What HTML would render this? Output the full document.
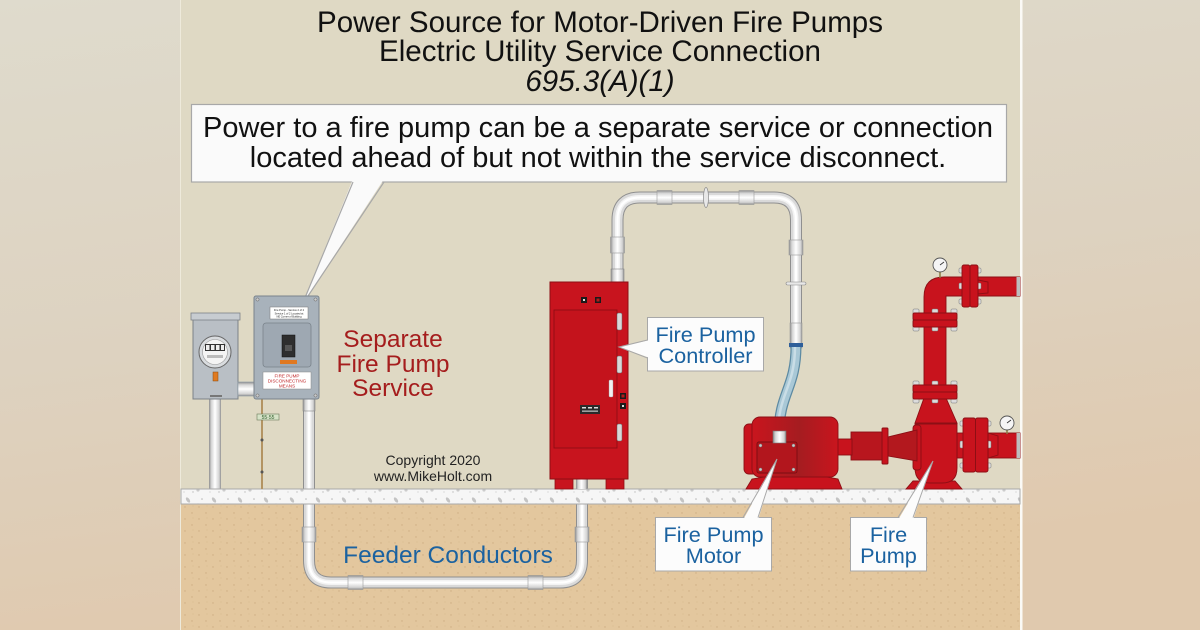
<!DOCTYPE html>
<html><head><meta charset="utf-8">
<style>
html,body{margin:0;padding:0;width:1200px;height:630px;overflow:hidden;background:#dfd6c3}
svg{display:block}
text{font-family:"Liberation Sans",Arial,sans-serif}
</style></head><body>
<svg width="1200" height="630" viewBox="0 0 1200 630" xmlns="http://www.w3.org/2000/svg">
<defs>
<linearGradient id="bg" x1="0" y1="0" x2="0.25" y2="1">
 <stop offset="0" stop-color="#dfdbcd"/>
 <stop offset="0.55" stop-color="#ddd2c0"/>
 <stop offset="1" stop-color="#e0c9ae"/>
</linearGradient>
<pattern id="dirt" width="14" height="12" patternUnits="userSpaceOnUse">
 <rect width="14" height="12" fill="#e3c79e"/>
 <circle cx="3" cy="3" r="0.7" fill="#cdad82"/>
 <circle cx="10" cy="9" r="0.7" fill="#cdad82"/>
 <circle cx="11" cy="2" r="0.5" fill="#d4b58b"/>
</pattern>
<pattern id="conc" width="26" height="15" patternUnits="userSpaceOnUse">
 <rect width="26" height="15" fill="#f6f6f6"/>
 <ellipse cx="6" cy="5" rx="1.6" ry="3" fill="#c4c4c4" transform="rotate(-35 6 5)"/>
 <circle cx="16" cy="10" r="1.6" fill="#cccccc"/>
 <circle cx="20" cy="4" r="0.8" fill="#b8b8b8"/>
 <circle cx="11" cy="12" r="0.7" fill="#bdbdbd"/>
 <circle cx="2" cy="12" r="0.6" fill="#c8c8c8"/>
</pattern>
<linearGradient id="gv" x1="0" y1="0" x2="1" y2="0">
 <stop offset="0" stop-color="#8e8e8e"/><stop offset="0.2" stop-color="#d6d6d6"/>
 <stop offset="0.5" stop-color="#ffffff"/><stop offset="0.85" stop-color="#d2d2d2"/>
 <stop offset="1" stop-color="#8e8e8e"/>
</linearGradient>
<linearGradient id="gh" x1="0" y1="0" x2="0" y2="1">
 <stop offset="0" stop-color="#8e8e8e"/><stop offset="0.2" stop-color="#d6d6d6"/>
 <stop offset="0.5" stop-color="#ffffff"/><stop offset="0.85" stop-color="#d2d2d2"/>
 <stop offset="1" stop-color="#8e8e8e"/>
</linearGradient>
<linearGradient id="motor" x1="0" y1="0" x2="1" y2="0">
 <stop offset="0" stop-color="#c9151e"/><stop offset="0.55" stop-color="#a51c20"/>
 <stop offset="1" stop-color="#c9151e"/>
</linearGradient>
<path id="feeder" d="M309,399 V560 Q309,582.5 331,582.5 H560 Q582,582.5 582,560 V479"/>
<path id="topc" d="M617.5,282 V220 Q617.5,197.5 640,197.5 H774 Q796,197.5 796,220 V348"/>
</defs>

<!-- outer background -->
<rect width="1200" height="630" fill="url(#bg)"/>
<!-- panel -->
<rect x="180" y="0" width="840" height="630" fill="#dfd9c4"/>
<line x1="180.5" y1="0" x2="180.5" y2="630" stroke="#eeeadb" stroke-width="1"/>
<rect x="1020" y="0" width="2.5" height="630" fill="#fbfaf6"/>
<!-- ground -->
<rect x="181" y="504" width="839" height="126" fill="url(#dirt)"/>
<rect x="181" y="489" width="839" height="15" fill="url(#conc)" stroke="#a9a9a9" stroke-width="1"/>

<!-- Title -->
<text x="600" y="32" font-size="29.5" text-anchor="middle" fill="#111" textLength="566" lengthAdjust="spacingAndGlyphs">Power Source for Motor-Driven Fire Pumps</text>
<text x="600" y="61" font-size="29.5" text-anchor="middle" fill="#111" textLength="442" lengthAdjust="spacingAndGlyphs">Electric Utility Service Connection</text>
<text x="600" y="91" font-size="29.5" font-style="italic" text-anchor="middle" fill="#111">695.3(A)(1)</text>

<!-- Main callout -->
<rect x="191.5" y="104.5" width="815" height="77.5" fill="#fafafa" stroke="#a8a8a8" stroke-width="1.2"/>
<polygon points="353,179 384,179 302,305" fill="#fafafa"/>
<path d="M353,182 L302,305 L384,182" fill="none" stroke="#a8a8a8" stroke-width="1.2"/>
<text x="598" y="137" font-size="29" text-anchor="middle" fill="#111" textLength="790" lengthAdjust="spacingAndGlyphs">Power to a fire pump can be a separate service or connection</text>
<text x="598" y="167" font-size="29" text-anchor="middle" fill="#111">located ahead of but not within the service disconnect.</text>

<!-- meter pipe -->
<rect x="209" y="399" width="12" height="90" fill="url(#gv)"/>
<!-- feeder conduit -->
<g fill="none">
 <use href="#feeder" stroke="#8f8f8f" stroke-width="12"/>
 <use href="#feeder" stroke="#d9d9d9" stroke-width="10"/>
 <use href="#feeder" stroke="#f3f3f3" stroke-width="5"/>
 <use href="#feeder" stroke="#ffffff" stroke-width="2"/>
</g>
<!-- redraw slab over conduit region -->
<rect x="181" y="489" width="839" height="15" fill="url(#conc)" stroke="#a9a9a9" stroke-width="1"/>
<rect x="209" y="489.5" width="12" height="0" />
<!-- feeder couplings -->
<rect x="302" y="527" width="14" height="15" fill="url(#gv)" stroke="#999" stroke-width="0.6"/>
<rect x="575" y="527" width="14" height="15" fill="url(#gv)" stroke="#999" stroke-width="0.6"/>
<rect x="348" y="575.5" width="15" height="14" fill="url(#gh)" stroke="#999" stroke-width="0.6"/>
<rect x="528" y="575.5" width="15" height="14" fill="url(#gh)" stroke="#999" stroke-width="0.6"/>
<text x="448" y="563" font-size="24.5" text-anchor="middle" fill="#1b62a0">Feeder Conductors</text>

<!-- ground wire -->
<line x1="262" y1="399" x2="262" y2="489" stroke="#b39463" stroke-width="2"/>
<rect x="257" y="414" width="22" height="6" fill="#d7e3c8" stroke="#6b7a5a" stroke-width="0.6"/>
<text x="268" y="419" font-size="5" text-anchor="middle" fill="#2f5d2a">55·55</text>
<circle cx="262" cy="440" r="1.5" fill="#555"/>
<circle cx="262" cy="472" r="1.5" fill="#555"/>

<!-- meter -->
<rect x="193" y="317" width="45" height="82" fill="#b9bfc5" stroke="#7c8288" stroke-width="1"/>
<rect x="191" y="313" width="49" height="7" fill="#c7ccd1" stroke="#7c8288" stroke-width="0.8"/>
<circle cx="215" cy="352" r="16" fill="#d9dcdf" stroke="#666" stroke-width="1"/>
<circle cx="215" cy="352" r="12.5" fill="#f4f4f4" stroke="#999" stroke-width="0.6"/>
<rect x="205" y="344" width="20" height="7" fill="#333"/>
<rect x="206" y="345" width="3.5" height="5" fill="#eee"/><rect x="211" y="345" width="3.5" height="5" fill="#eee"/><rect x="216" y="345" width="3.5" height="5" fill="#eee"/><rect x="221" y="345" width="3" height="5" fill="#eee"/>
<rect x="207" y="355" width="16" height="3" fill="#bbb"/>
<rect x="213" y="372" width="5" height="9" fill="#e07a20" stroke="#8a4a10" stroke-width="0.5"/>
<rect x="210" y="395" width="12" height="2" fill="#777"/>
<!-- nipple -->
<rect x="238" y="382" width="17" height="14" fill="url(#gh)" stroke="#8a9aa6" stroke-width="0.6"/>

<!-- disconnect -->
<rect x="303" y="399" width="12" height="12" fill="url(#gv)" stroke="#888" stroke-width="0.6"/>
<rect x="254" y="296" width="65" height="103" rx="2" fill="#a8b2bb" stroke="#7a838b" stroke-width="1"/>
<circle cx="257.5" cy="299.5" r="1.6" fill="#ccc" stroke="#666" stroke-width="0.5"/>
<circle cx="315.5" cy="299.5" r="1.6" fill="#ccc" stroke="#666" stroke-width="0.5"/>
<circle cx="257.5" cy="395.5" r="1.6" fill="#ccc" stroke="#666" stroke-width="0.5"/>
<circle cx="315.5" cy="395.5" r="1.6" fill="#ccc" stroke="#666" stroke-width="0.5"/>
<rect x="270" y="307" width="38" height="12" fill="#fff" stroke="#777" stroke-width="0.5"/>
<text x="289" y="311" font-size="2.6" text-anchor="middle" fill="#222">Fire Pump - Service 2 of 2</text>
<text x="289" y="314.3" font-size="2.6" text-anchor="middle" fill="#222">Service 1 of 2 Located at</text>
<text x="289" y="317.6" font-size="2.6" text-anchor="middle" fill="#222">NE Corner of Building</text>
<rect x="263" y="323" width="48" height="44" rx="3" fill="#9ea8b2" stroke="#7a838b" stroke-width="0.8"/>
<rect x="282" y="335" width="13" height="22" fill="#2e2e2e" stroke="#111" stroke-width="0.5"/>
<rect x="285" y="345" width="7" height="6" fill="#555"/>
<rect x="280" y="360" width="17" height="4" fill="#e07820"/>
<rect x="263" y="372" width="48" height="17" fill="#fff" stroke="#888" stroke-width="0.5"/>
<text x="287" y="377.5" font-size="4.6" text-anchor="middle" fill="#c0282a">FIRE PUMP</text>
<text x="287" y="382.5" font-size="4.6" text-anchor="middle" fill="#c0282a">DISCONNECTING</text>
<text x="287" y="387.5" font-size="4.6" text-anchor="middle" fill="#c0282a">MEANS</text>

<!-- separate label -->
<text x="393" y="347" font-size="24.5" text-anchor="middle" fill="#a51d1d">Separate</text>
<text x="393" y="372" font-size="24.5" text-anchor="middle" fill="#a51d1d">Fire Pump</text>
<text x="393" y="396" font-size="24.5" text-anchor="middle" fill="#a51d1d">Service</text>

<text x="433" y="465" font-size="14" text-anchor="middle" fill="#222">Copyright 2020</text>
<text x="433" y="481" font-size="14" text-anchor="middle" fill="#222">www.MikeHolt.com</text>

<!-- top conduit -->
<g fill="none">
 <use href="#topc" stroke="#8f8f8f" stroke-width="12"/>
 <use href="#topc" stroke="#d9d9d9" stroke-width="10"/>
 <use href="#topc" stroke="#f3f3f3" stroke-width="5"/>
 <use href="#topc" stroke="#ffffff" stroke-width="2"/>
</g>
<rect x="610.5" y="237" width="14" height="16" fill="url(#gv)" stroke="#999" stroke-width="0.6"/>
<rect x="789" y="240" width="14" height="15" fill="url(#gv)" stroke="#999" stroke-width="0.6"/>
<rect x="657" y="190.5" width="15" height="14" fill="url(#gh)" stroke="#999" stroke-width="0.6"/>
<rect x="739" y="190.5" width="15" height="14" fill="url(#gh)" stroke="#999" stroke-width="0.6"/>
<ellipse cx="706" cy="197.5" rx="2.5" ry="10" fill="#e8e8e8" stroke="#888" stroke-width="0.7"/>
<rect x="786" y="282" width="20" height="3" rx="1.5" fill="#e8e8e8" stroke="#888" stroke-width="0.6"/>
<rect x="611" y="269" width="13" height="13" fill="url(#gv)" stroke="#888" stroke-width="0.6"/>
<rect x="790" y="323" width="12" height="25" fill="url(#gv)" stroke="#999" stroke-width="0.6"/>

<!-- flex conduit -->
<path d="M796,346 C796,388 779,393 779,434" fill="none" stroke="#5d8aa2" stroke-width="11"/>
<path d="M796,346 C796,388 779,393 779,434" fill="none" stroke="#a9c8d6" stroke-width="8.5"/>
<path d="M795,346 C795,388 778,393 778,434" fill="none" stroke="#c9dde6" stroke-width="2.5"/>
<rect x="789" y="343" width="14" height="4" fill="#2f5f9a"/>

<!-- controller -->
<rect x="576" y="479" width="11" height="10" fill="url(#gv)"/>
<rect x="555" y="478" width="18" height="11" fill="#c8141e" stroke="#8e0e14" stroke-width="0.8"/>
<rect x="606" y="478" width="18" height="11" fill="#c8141e" stroke="#8e0e14" stroke-width="0.8"/>
<rect x="550" y="282" width="78" height="197" fill="#c8141e" stroke="#8e0e14" stroke-width="1"/>
<rect x="554" y="310" width="63" height="138" fill="#c4131c" stroke="#8e0e14" stroke-width="0.9"/>
<rect x="581" y="297" width="6" height="6" fill="#1a1a1a"/><rect x="583" y="299" width="2" height="2" fill="#ddd"/>
<rect x="595" y="297" width="6" height="6" fill="#1a1a1a"/><rect x="596.5" y="298.5" width="3" height="3" fill="#b51a1a"/>
<rect x="617" y="313" width="5" height="17" rx="1.5" fill="#d8d8d8" stroke="#666" stroke-width="0.5"/>
<rect x="617" y="356" width="5" height="17" rx="1.5" fill="#d8d8d8" stroke="#666" stroke-width="0.5"/>
<rect x="617" y="424" width="5" height="17" rx="1.5" fill="#d8d8d8" stroke="#666" stroke-width="0.5"/>
<rect x="609" y="380" width="4" height="17" rx="1" fill="#f2f2f2" stroke="#999" stroke-width="0.4"/>
<rect x="620" y="393" width="6" height="6" fill="#1a1a1a"/><rect x="621.5" y="394.5" width="3" height="3" fill="#b51a1a"/>
<rect x="620" y="403" width="6" height="6" fill="#1a1a1a"/><rect x="622" y="405" width="2" height="2" fill="#ddd"/>
<rect x="580" y="405" width="20" height="9" fill="#2a2a2a"/>
<rect x="582" y="407" width="4" height="1.5" fill="#ddd"/><rect x="588" y="407" width="4" height="1.5" fill="#ddd"/><rect x="594" y="407" width="4" height="1.5" fill="#ddd"/>
<rect x="582" y="410.5" width="16" height="1.3" fill="#bbb"/>

<!-- controller label -->
<rect x="647.5" y="317.5" width="116" height="53.5" fill="#fcfcfc" stroke="#a8a8a8" stroke-width="1"/>
<polygon points="650,340 650,358 619,347" fill="#fcfcfc"/>
<path d="M647.5,340 L619,347 L647.5,358" fill="none" stroke="#a8a8a8" stroke-width="1"/>
<text x="705.5" y="342" font-size="21.7" text-anchor="middle" fill="#1b62a0">Fire Pump</text>
<text x="705.5" y="363" font-size="21.7" text-anchor="middle" fill="#1b62a0">Controller</text>

<!-- pump piping -->
<g fill="#c8131d" stroke="#8c0f15" stroke-width="0.9">
 <path d="M924,313 V297 Q924,277 944,277 H1020 V296 H946 V313 Z"/>
 <rect x="924" y="326" width="22" height="60"/>
 <polygon points="924,398 946,398 957,423 915,423"/>
 <rect x="957" y="433" width="63" height="25"/>
 <polygon points="988,433 998,436 998,455 988,458"/>
 <polygon points="978,280 988,282 988,293 978,294"/>
</g>
<!-- top flanges -->
<g fill="#dcdcdc" stroke="#777" stroke-width="0.5">
 <rect x="959" y="268" width="22" height="5" rx="1"/><rect x="959" y="283" width="22" height="6" rx="1"/><rect x="959" y="299" width="22" height="5" rx="1"/>
 <rect x="913" y="309" width="6" height="22" rx="1"/><rect x="932" y="309" width="6" height="22" rx="1"/><rect x="951" y="309" width="6" height="22" rx="1"/>
 <rect x="913" y="381" width="6" height="22" rx="1"/><rect x="932" y="381" width="6" height="22" rx="1"/><rect x="951" y="381" width="6" height="22" rx="1"/>
 <rect x="960" y="421" width="31" height="5" rx="1"/><rect x="960" y="441" width="31" height="7" rx="1"/><rect x="960" y="463" width="31" height="5" rx="1"/>
</g>
<g fill="#c8131d" stroke="#8c0f15" stroke-width="0.9">
 <rect x="962" y="265" width="8" height="42" rx="2"/><rect x="970" y="265" width="8" height="42" rx="2"/>
 <rect x="913" y="313" width="44" height="7" rx="1.5"/><rect x="913" y="320" width="44" height="7" rx="1.5"/>
 <rect x="913" y="385" width="44" height="7" rx="1.5"/><rect x="913" y="392" width="44" height="7" rx="1.5"/>
 <rect x="963" y="418" width="12.5" height="54" rx="2"/><rect x="975.5" y="418" width="12.5" height="54" rx="2"/>
</g>
<rect x="1016.5" y="277" width="3.5" height="19" fill="#bdbdbd"/>
<rect x="1016.5" y="433" width="3.5" height="25" fill="#bdbdbd"/>
<!-- gauges -->
<line x1="940" y1="271" x2="940" y2="278" stroke="#8a7a40" stroke-width="1.5"/>
<circle cx="940" cy="265" r="7" fill="#f5f5f5" stroke="#555" stroke-width="0.9"/>
<line x1="940" y1="265" x2="944" y2="262" stroke="#333" stroke-width="0.8"/>
<line x1="1007" y1="429" x2="1007" y2="434" stroke="#8a7a40" stroke-width="1.5"/>
<circle cx="1007" cy="423" r="7" fill="#f5f5f5" stroke="#555" stroke-width="0.9"/>
<line x1="1007" y1="423" x2="1011" y2="420" stroke="#333" stroke-width="0.8"/>

<!-- pump -->
<g fill="#c8131d" stroke="#8c0f15" stroke-width="0.9">
 <path d="M906,489 L913,481 H955 L962,489 Z"/>
 <path d="M915,424 H957 V468 Q957,483 942,483 H930 Q915,483 915,468 Z"/>
 <rect x="913" y="425" width="8" height="45" rx="3"/>
 <polygon points="888,437 917,430 917,461 888,456" fill="#b3181e"/>
 <rect x="882" y="428" width="6" height="36" rx="1"/>
 <rect x="851" y="432" width="31" height="28" fill="#b8161e"/>
 <rect x="837" y="439" width="15" height="16"/>
 <path d="M746,489 L752,479 L770,476 H822 L838,479 L842,489 Z"/>
 <rect x="744" y="424" width="16" height="50" rx="5"/>
 <rect x="752" y="417" width="86" height="60" rx="8" fill="url(#motor)"/>
 <rect x="757" y="442" width="40" height="31" rx="2" fill="#b2161d" stroke="#7a0d12"/>
</g>
<g fill="#c9c9c9" stroke="#555" stroke-width="0.4">
 <circle cx="760.5" cy="445.5" r="1.6"/><circle cx="793.5" cy="445.5" r="1.6"/>
 <circle cx="760.5" cy="469.5" r="1.6"/><circle cx="793.5" cy="469.5" r="1.6"/>
</g>
<rect x="773" y="431" width="13" height="12" fill="url(#gv)" stroke="#777" stroke-width="0.6"/>

<!-- motor label -->
<rect x="655.5" y="517.5" width="116" height="53.5" fill="#fcfcfc" stroke="#a8a8a8" stroke-width="1"/>
<polygon points="743,520 758,520 777,459" fill="#fcfcfc"/>
<path d="M743,517.5 L777,459 L758,517.5" fill="none" stroke="#a8a8a8" stroke-width="1"/>
<text x="713.5" y="542" font-size="21.7" text-anchor="middle" fill="#1b62a0">Fire Pump</text>
<text x="713.5" y="563" font-size="21.7" text-anchor="middle" fill="#1b62a0">Motor</text>

<!-- pump label -->
<rect x="850.5" y="517.5" width="76" height="53.5" fill="#fcfcfc" stroke="#a8a8a8" stroke-width="1"/>
<polygon points="898,520 913,520 933,461" fill="#fcfcfc"/>
<path d="M898,517.5 L933,461 L913,517.5" fill="none" stroke="#a8a8a8" stroke-width="1"/>
<text x="888.5" y="542" font-size="21.7" text-anchor="middle" fill="#1b62a0">Fire</text>
<text x="888.5" y="563" font-size="21.7" text-anchor="middle" fill="#1b62a0">Pump</text>
</svg>
</body></html>
